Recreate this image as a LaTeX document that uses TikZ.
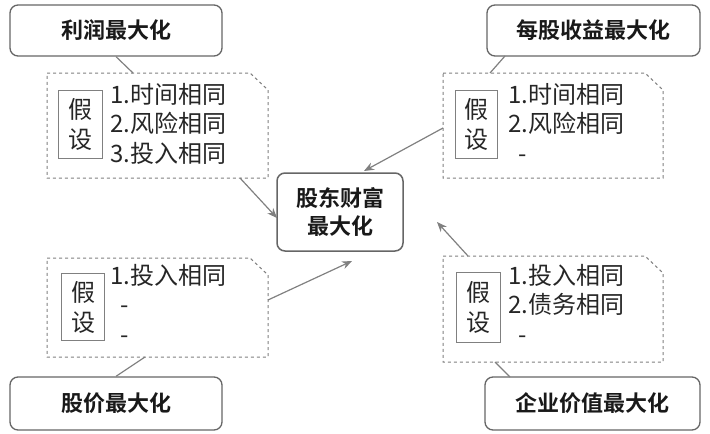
\documentclass[tikz,border=0pt]{standalone}
\usepackage{fontspec}
\usetikzlibrary{arrows.meta}
\setmainfont{Noto Sans CJK SC}[BoldFont={Noto Sans CJK SC Bold}]
\begin{document}
\begin{tikzpicture}[x=1pt,y=-1pt,
 lbl/.style={draw=gray!80!black,line width=1.3pt,rounded corners=8pt,fill=white,font=\fontsize{22}{24}\selectfont\bfseries,text=black!90},
 ctr/.style={draw=gray!80!black,line width=1.5pt,rounded corners=8pt,fill=white,font=\fontsize{22}{28}\selectfont\bfseries,text=black!90,align=center},
 jb/.style={draw=gray,line width=0.8pt,font=\fontsize{24}{30}\selectfont,text=black!85,align=center,inner sep=1pt},
 txt/.style={anchor=north west,font=\fontsize{24}{29.5}\selectfont,text=black!85,align=left,inner sep=0pt},
 dsh/.style={draw=gray,dashed,line width=1pt},
 ln/.style={draw=gray,line width=1.2pt},
 ar/.style={ln,-{Stealth[length=10pt,width=8pt]}}]
\useasboundingbox (0,0) rectangle (710,434);
% center
\node[ctr,minimum width=126pt,minimum height=78pt] (c) at (340,212) {股东财富\\最大化};
\coordinate (c1) at (277,218); \coordinate (c2) at (364,171);
\coordinate (c3) at (352,261); \coordinate (c4) at (437,222);
% top-left
\draw[dsh] (47,73) -- (250,73) -- (268,90) -- (268,178) -- (47,178) -- cycle;
\coordinate (d1t) at (133,73); \coordinate (d1o) at (240,178);
\node[jb,minimum width=44pt,minimum height=68pt] (j1) at (80,124) {假\\设};
\node[txt] (t1) at (110,83) {1.时间相同\\2.风险相同\\3.投入相同};
\node[lbl,minimum width=212pt,minimum height=51pt] (l1) at (116,30.5) {利润最大化};
\draw[ln] (l1.south) -- (d1t);
\draw[ar] (d1o) -- (c1);
% top-right
\draw[dsh] (443,73) -- (645,73) -- (663,90) -- (663,178) -- (443,178) -- cycle;
\coordinate (d2t) at (490,73); \coordinate (d2o) at (443,128);
\node[jb,minimum width=42pt,minimum height=68pt] (j2) at (476,124) {假\\设};
\node[txt] (t2) at (508,83) {1.时间相同\\2.风险相同\\\ \ -};
\node[lbl,minimum width=213pt,minimum height=51pt] (l2) at (593.5,30.5) {每股收益最大化};
\coordinate (l2s) at (505,56);
\draw[ln] (l2s) -- (d2t);
\draw[ar] (d2o) -- (c2);
% bottom-left
\draw[dsh] (47,258) -- (250,258) -- (268,275) -- (268,357) -- (47,357) -- cycle;
\coordinate (d3b) at (145,357); \coordinate (d3o) at (268,300);
\node[jb,minimum width=43pt,minimum height=67pt] (j3) at (83,307) {假\\设};
\node[txt] (t3) at (110,264) {1.投入相同\\\ \ -\\\ \ -};
\node[lbl,minimum width=212pt,minimum height=53pt] (l3) at (116,403.5) {股价最大化};
\draw[ln] (d3b) -- (l3.north);
\draw[ar] (d3o) -- (c3);
% bottom-right
\draw[dsh] (443,256) -- (645,256) -- (663,273) -- (663,362) -- (443,362) -- cycle;
\coordinate (d4b) at (495,362); \coordinate (d4o) at (468,256); \coordinate (l4t) at (510,377);
\node[jb,minimum width=44pt,minimum height=70pt] (j4) at (478,307) {假\\设};
\node[txt] (t4) at (508,264) {1.投入相同\\2.债务相同\\\ \ -};
\node[lbl,minimum width=215pt,minimum height=53pt] (l4) at (592.5,403.5) {企业价值最大化};
\draw[ln] (d4b) -- (l4t);
\draw[ar] (d4o) -- (c4);
\end{tikzpicture}
\end{document}
